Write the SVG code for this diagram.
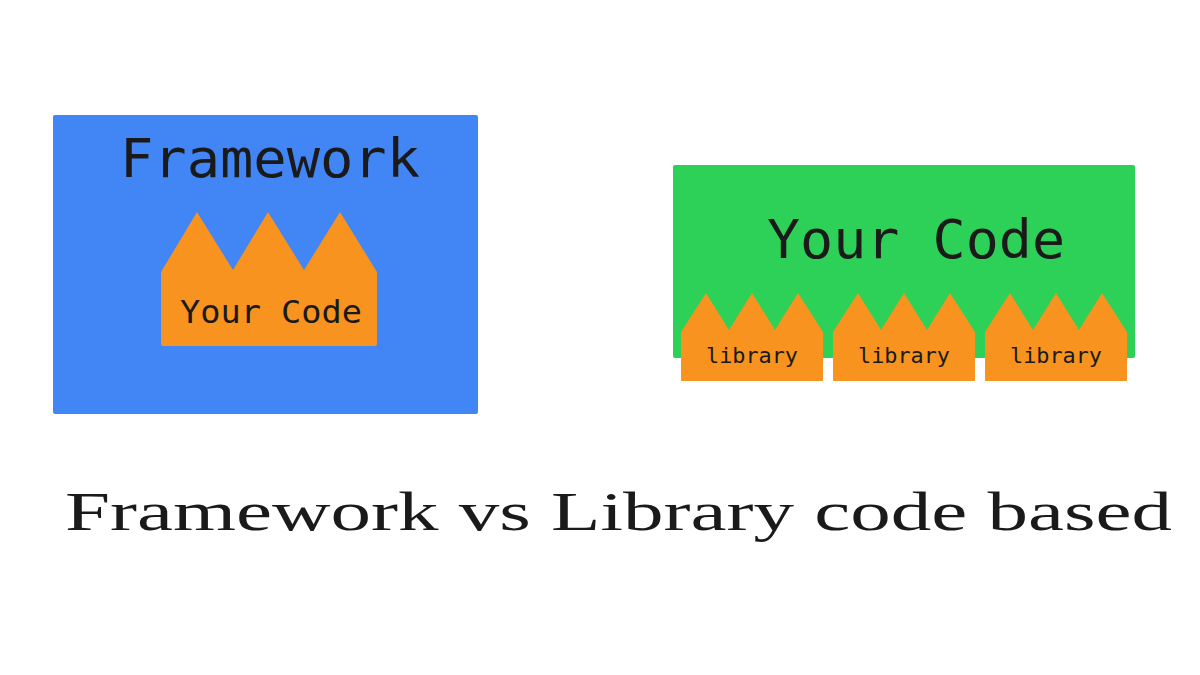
<svg xmlns="http://www.w3.org/2000/svg" width="1200" height="675" viewBox="0 0 1200 675">
<style>
.m{font-family:"DejaVu Sans Mono","Liberation Mono",monospace;fill:#1a1a1a}
.c{fill:#f7931e}
</style>
<rect width="1200" height="675" fill="#fff"/>
<g id="framework">
<rect x="53" y="115" width="425" height="299" rx="2" fill="#4285f4"/>
<text class="m" x="270" y="177" font-size="54" text-anchor="middle" textLength="300" lengthAdjust="spacingAndGlyphs">Framework</text>
</g>
<g id="framework-code">
<path class="c" d="M161 272 L197 212 L233 270 L268 212 L304 270 L340 212 L377 272 L377 344 Q377 346 375 346 L163 346 Q161 346 161 344 Z"/>
<text class="m" x="271" y="323" font-size="32" text-anchor="middle" textLength="182" lengthAdjust="spacingAndGlyphs">Your Code</text>
</g>
<g id="library-box">
<rect x="673" y="165" width="462" height="193" rx="2" fill="#2ed158"/>
<text class="m" x="916" y="258" font-size="54" text-anchor="middle" textLength="298" lengthAdjust="spacingAndGlyphs">Your Code</text>
</g>
<g id="lib1">
<path class="c" d="M681 332 L706 293 L729 330 L752 293 L775 330 L798 293 L823 332 L823 380 Q823 381 822 381 L682 381 Q681 381 681 380 Z"/>
<text class="m" x="752" y="363" font-size="21" text-anchor="middle" textLength="92" lengthAdjust="spacingAndGlyphs">library</text>
</g>
<g id="lib2">
<path class="c" d="M833 332 L858 293 L881 330 L904 293 L927 330 L950 293 L975 332 L975 380 Q975 381 974 381 L834 381 Q833 381 833 380 Z"/>
<text class="m" x="904" y="363" font-size="21" text-anchor="middle" textLength="92" lengthAdjust="spacingAndGlyphs">library</text>
</g>
<g id="lib3">
<path class="c" d="M985 332 L1010 293 L1033 330 L1056 293 L1079 330 L1102 293 L1127 332 L1127 380 Q1127 381 1126 381 L986 381 Q985 381 985 380 Z"/>
<text class="m" x="1056" y="363" font-size="21" text-anchor="middle" textLength="92" lengthAdjust="spacingAndGlyphs">library</text>
</g>
<g id="connectors"/>
<text x="65" y="530" font-family="Liberation Serif, serif" font-size="54" fill="#1a1a1a" textLength="1107" lengthAdjust="spacingAndGlyphs">Framework vs Library code based</text>
</svg>
